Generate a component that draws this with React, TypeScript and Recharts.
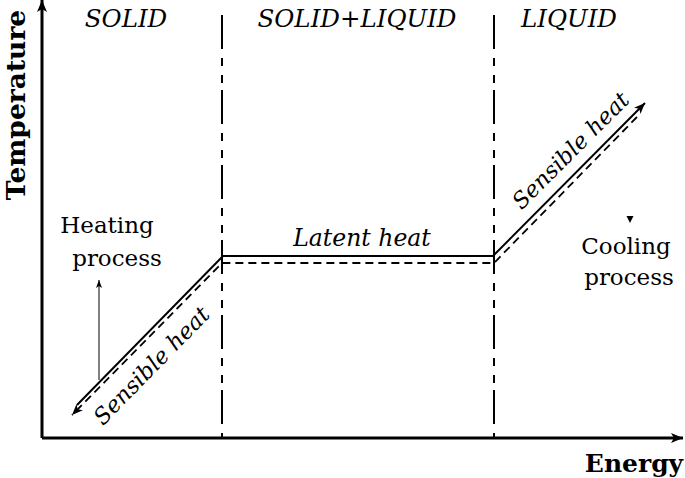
import { LineChart, Line, XAxis, YAxis, ReferenceLine, ReferenceDot } from "recharts";

// energy (e) / temperature (t) in arbitrary units
const heatingPath = [
  { e: 35, t: 33 },
  { e: 181, t: 182 },
  { e: 451, t: 182 },
  { e: 603, t: 335 }
];
const coolingPath = [
  { e: 595, t: 321 },
  { e: 452, t: 175 },
  { e: 180, t: 175 },
  { e: 30, t: 23 }
];
const phaseBounds = [180, 452];
const phaseNames = ["SOLID", "SOLID+LIQUID", "LIQUID"];
const energyAxis = [
  { e: 0, t: 0 },
  { e: 641, t: 0 }
];
const tempAxis = [
  { e: 0, t: 0 },
  { e: 0, t: 438 }
];
const heatingArrow = [
  { e: 57, t: 58 },
  { e: 57, t: 158 }
];
const coolingTip = { e: 588, t: 215 };

const FONT = "'DejaVu Serif', serif";

// where the words sit (chart units) and how they look
const phaseLabelPos = [
  { e: 84, t: 411 },
  { e: 315, t: 411 },
  { e: 527, t: 411 }
];
const notes = [
  { text: "Latent heat", e: 320, t: 192, italic: true, angle: 0, size: 23.5 },
  { text: "Heating", e: 65, t: 205, italic: false, angle: 0, size: 23 },
  { text: "process", e: 75, t: 172, italic: false, angle: 0, size: 23 },
  { text: "Cooling", e: 584, t: 184, italic: false, angle: 0, size: 23 },
  { text: "process", e: 587, t: 153, italic: false, angle: 0, size: 23 },
  { text: "Sensible heat", e: 115, t: 67, italic: true, angle: -45.6, size: 22.5 },
  { text: "Sensible heat", e: 534, t: 282, italic: true, angle: -45, size: 22.5 }
];

const textShape =
  (text: string, opts: { italic?: boolean; bold?: boolean; angle?: number; size?: number }) =>
  (p: any) =>
    (
      <text
        x={p.cx}
        y={p.cy}
        textAnchor="middle"
        fontFamily={FONT}
        fontSize={opts.size ?? 22}
        fontStyle={opts.italic ? "italic" : "normal"}
        fontWeight={opts.bold ? "bold" : "normal"}
        fill="#000"
        transform={opts.angle ? `rotate(${opts.angle}, ${p.cx}, ${p.cy})` : undefined}
      >
        {text}
      </text>
    );

export default function App() {
  return (
    <div style={{ position: "absolute", left: 0, top: 0, background: "#fff" }}>
      <LineChart width={685} height={478} margin={{ top: 0, right: 2, bottom: 40, left: 42 }}>
        <defs>
          <marker id="axisArrow" viewBox="0 0 12 10" markerWidth={12} markerHeight={10}
            refX={12} refY={5} orient="auto" markerUnits="userSpaceOnUse">
            <path d="M0,0 L12,5 L0,10 L3,5 z" fill="#000" />
          </marker>
          <marker id="pathArrow" viewBox="0 0 11 9" markerWidth={11} markerHeight={9}
            refX={11} refY={4.5} orient="auto" markerUnits="userSpaceOnUse">
            <path d="M0,0 L11,4.5 L0,9 L3,4.5 z" fill="#000" />
          </marker>
          <marker id="thinArrow" viewBox="0 0 8 6" markerWidth={8} markerHeight={6}
            refX={8} refY={3} orient="auto" markerUnits="userSpaceOnUse">
            <path d="M0,0 L8,3 L0,6 L2,3 z" fill="#000" />
          </marker>
        </defs>

        <XAxis type="number" dataKey="e" domain={[0, 641]} hide />
        <YAxis type="number" dataKey="t" domain={[0, 438]} hide />

        {/* phase boundaries */}
        {phaseBounds.map((b) => (
          <ReferenceLine
            key={b}
            segment={[{ x: b, y: 423 }, { x: b, y: 0 }]}
            stroke="#000"
            strokeWidth={2}
            strokeDasharray="34 9 8 9 8 7"
          />
        ))}

        {/* axes */}
        <Line data={energyAxis} dataKey="t" stroke="#000" strokeWidth={3} dot={false}
          activeDot={false} isAnimationActive={false} markerEnd="url(#axisArrow)" />
        <Line data={tempAxis} dataKey="t" stroke="#000" strokeWidth={3} dot={false}
          activeDot={false} isAnimationActive={false} markerEnd="url(#axisArrow)" />

        {/* heating & cooling curves */}
        <Line data={heatingPath} dataKey="t" stroke="#000" strokeWidth={2} dot={false}
          activeDot={false} isAnimationActive={false} markerEnd="url(#pathArrow)" />
        <Line data={coolingPath} dataKey="t" stroke="#000" strokeWidth={1.8} strokeDasharray="8 5"
          dot={false} activeDot={false} isAnimationActive={false} markerEnd="url(#pathArrow)" />
        <Line data={heatingArrow} dataKey="t" stroke="#000" strokeWidth={1} dot={false}
          activeDot={false} isAnimationActive={false} markerEnd="url(#thinArrow)" />

        <ReferenceDot
          x={coolingTip.e}
          y={coolingTip.t}
          r={0}
          shape={(p: any) => (
            <path d={`M${p.cx - 3.5},${p.cy - 7} L${p.cx + 3.5},${p.cy - 7} L${p.cx},${p.cy} z`} fill="#000" />
          )}
        />

        {phaseNames.map((n, i) => (
          <ReferenceDot key={n} x={phaseLabelPos[i].e} y={phaseLabelPos[i].t} r={0}
            ifOverflow="visible" shape={textShape(n, { italic: true, size: 24.5 })} />
        ))}
        {notes.map((n, i) => (
          <ReferenceDot key={i} x={n.e} y={n.t} r={0} ifOverflow="visible"
            shape={textShape(n.text, { italic: n.italic, angle: n.angle, size: n.size })} />
        ))}

        {/* axis titles */}
        <ReferenceDot x={592} y={-34} r={0} ifOverflow="visible"
          shape={textShape("Energy", { bold: true, size: 25 })} />
        <ReferenceDot x={-17} y={333} r={0} ifOverflow="visible"
          shape={textShape("Temperature", { bold: true, size: 26.5, angle: -90 })} />
      </LineChart>
    </div>
  );
}
